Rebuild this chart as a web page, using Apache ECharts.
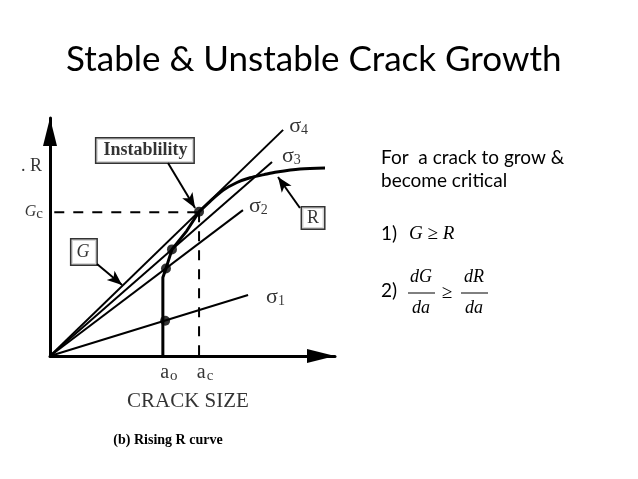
<!DOCTYPE html>
<html><head><meta charset="utf-8">
<script src="https://cdn.jsdelivr.net/npm/echarts@6/dist/echarts.min.js"></script>
<style>html,body{margin:0;padding:0;background:#fff}#c{width:638px;height:479px}</style>
</head><body><div id="c"></div>
<script>
// ---- data (arbitrary diagram units, x: crack size, y: G / R) ----
const a0 = 39.6;
const ac = 52.3;
const Gc = 60.4;
const sigmaNames = ['1', '2', '3', '4'];
const sigmaEnds = [[69.5, 25.6], [67.7, 61.3], [77.9, 81.5], [81.8, 95.0]];
const sigmaLabelOffsets = [[12, 2], [0, -4], [4, -6], [0, -4]];
const dots = [[40.4, 14.8], [40.7, 36.8], [42.8, 44.8], [52.3, 60.6]];
const rRise = [[39.6, 0], [39.6, 33.0], [40.7, 36.8], [42.8, 44.8], [48.0, 52.6], [52.3, 60.6]];
const rCurve = [[52.3, 60.6], [56.1, 64.9], [60.7, 69.6], [65.6, 72.9], [70.2, 74.9], [75.1, 76.2],
                [79.6, 77.3], [87.7, 78.6], [96.5, 79.0]];
const pointerArrows = [
  [[41.4, 81.1], [50.9, 62.2]],   // Instability
  [[16.5, 38.7], [25.3, 29.8]],   // G
  [[87.7, 62.2], [80.0, 75.2]]    // R
];
const boxLabels = [
  {pos: [33.3, 86.3], text: 'Instablility', kind: 'inst'},
  {pos: [11.9, 43.7], text: 'G', kind: 'g'},
  {pos: [92.3, 58.0], text: 'R', kind: 'r'}
];
const xLabels = [{x: a0, main: 'a', sub: 'o'}, {x: ac, main: 'a', sub: 'c'}];

const SERIF = 'Liberation Serif';
const chart = echarts.init(document.getElementById('c'));

const axisCommon = {
  type: 'value', min: 0, max: 100,
  axisLine: {show: true, symbol: ['none', 'triangle'], symbolSize: [14, 28], symbolOffset: [0, -14],
             lineStyle: {color: '#000', width: 3}},
  axisTick: {show: false}, axisLabel: {show: false}, splitLine: {show: false}
};

const series = [];
// sigma lines
sigmaEnds.forEach((e) => {
  series.push({
    type: 'line', silent: true, symbol: 'none', clip: false,
    lineStyle: {color: '#000', width: 2},
    data: [[0, 0], e]
  });
});
// sigma labels
series.push({type: 'scatter', silent: true, symbolSize: 0, clip: false, data: sigmaEnds.map((e, i) => ({
  value: e,
  label: {
    show: true, position: 'right', distance: 6, offset: sigmaLabelOffsets[i],
    formatter: '{s|σ}{sub|' + sigmaNames[i] + '}',
    rich: {s: {fontFamily: SERIF, fontSize: 22, color: '#000', verticalAlign: 'middle', lineHeight: 22},
           sub: {fontFamily: SERIF, fontSize: 14, color: '#000', verticalAlign: 'bottom', lineHeight: 22}}
  }
}))});
// R curve
series.push({type: 'line', silent: true, symbol: 'none', clip: false,
  lineStyle: {color: '#000', width: 3}, data: rRise});
series.push({type: 'line', silent: true, symbol: 'none', clip: false, smooth: 0.3,
  lineStyle: {color: '#000', width: 3}, data: rCurve});
// dashed guides
series.push({type: 'line', silent: true, symbol: 'none', lineStyle: {color: '#000', width: 2, type: [10, 9]},
  data: [[1.5, Gc], [ac, Gc]]});
series.push({type: 'line', silent: true, symbol: 'none', lineStyle: {color: '#000', width: 2, type: [10, 9]},
  data: [[ac, Gc], [ac, 0]]});
// dots
series.push({type: 'scatter', silent: true, symbolSize: 10, itemStyle: {color: '#000'}, data: dots});
// pointer arrows
series.push({type: 'line', silent: true, data: [], markLine: {
  silent: true, animation: false, symbol: ['none', 'arrow'], symbolSize: [9, 15],
  lineStyle: {color: '#000', width: 2, type: 'solid'}, label: {show: false},
  data: pointerArrows.map(p => [{coord: p[0]}, {coord: p[1]}])
}});
// boxed labels
series.push({type: 'scatter', silent: true, symbolSize: 0, data: boxLabels.map(b => ({
  value: b.pos,
  label: {
    show: true, position: 'inside', formatter: b.text, color: '#000',
    fontFamily: SERIF,
    fontSize: b.kind === 'inst' ? 18 : 18,
    fontStyle: b.kind === 'g' ? 'italic' : 'normal',
    fontWeight: b.kind === 'inst' ? 'bold' : 'normal',
    borderColor: '#000', borderWidth: 1.5, backgroundColor: '#fff',
    padding: b.kind === 'inst' ? [4, 6, 2, 7] : (b.kind === 'g' ? [4, 7, 3, 5] : [2, 5, 1, 5])
  }
}))});
// axis annotations: a0, ac, R, Gc, axis title
series.push({type: 'scatter', silent: true, symbolSize: 0, data: xLabels.map(l => ({
  value: [l.x, 0],
  label: {show: true, position: 'bottom', distance: 6, offset: [6, 0],
    formatter: '{m|' + l.main + '}{s|' + l.sub + '}',
    rich: {m: {fontFamily: SERIF, fontSize: 20, color: '#000', verticalAlign: 'middle', lineHeight: 20},
           s: {fontFamily: SERIF, fontSize: 15, color: '#000', verticalAlign: 'bottom', lineHeight: 22, padding: [0, 0, 0, 1]}}
  }
})).concat([
  {value: [0, 79.8], label: {show: true, position: 'left', distance: 8, formatter: '. R',
    fontFamily: SERIF, fontSize: 18, color: '#000'}},
  {value: [0, Gc], label: {show: true, position: 'left', distance: 7,
    formatter: '{g|G}{c|c}',
    rich: {g: {fontFamily: SERIF, fontSize: 16, fontStyle: 'italic', color: '#000'},
           c: {fontFamily: SERIF, fontSize: 15, color: '#000', padding: [3, 0, 0, 0]}}}},
  {value: [48.4, 0], label: {show: true, position: 'bottom', distance: 35, formatter: 'CRACK SIZE',
    fontFamily: SERIF, fontSize: 21, color: '#000'}}
])});

const graphic = [
  {type: 'text', left: 66, top: 42, silent: true,
   style: {text: 'Stable & Unstable Crack Growth', font: '35px Lato', fill: '#000'}},
  {type: 'text', x: 168, y: 440, silent: true,
   style: {text: '(b) Rising R curve', font: 'bold 14px "Liberation Serif"', fill: '#000', align: 'center', verticalAlign: 'middle'}},
  {type: 'text', x: 381, y: 158, silent: true,
   style: {text: 'For  a crack to grow &', font: '19px Lato', fill: '#000', verticalAlign: 'middle'}},
  {type: 'text', x: 381, y: 181, silent: true,
   style: {text: 'become critical', font: '19px Lato', fill: '#000', verticalAlign: 'middle'}},
  {type: 'text', x: 381, y: 234, silent: true,
   style: {text: '1)', font: '19px Lato', fill: '#000', verticalAlign: 'middle'}},
  {type: 'text', x: 409, y: 234, silent: true,
   style: {text: 'G ≥ R', font: 'italic 19px "Liberation Serif"', fill: '#000', verticalAlign: 'middle'}},
  {type: 'text', x: 381, y: 291, silent: true,
   style: {text: '2)', font: '19px Lato', fill: '#000', verticalAlign: 'middle'}},
  {type: 'text', x: 421, y: 277, silent: true,
   style: {text: 'dG', font: 'italic 18px "Liberation Serif"', fill: '#000', align: 'center', verticalAlign: 'middle'}},
  {type: 'text', x: 421, y: 308, silent: true,
   style: {text: 'da', font: 'italic 18px "Liberation Serif"', fill: '#000', align: 'center', verticalAlign: 'middle'}},
  {type: 'line', silent: true, shape: {x1: 408, y1: 293, x2: 435, y2: 293}, style: {stroke: '#000', lineWidth: 1}},
  {type: 'text', x: 447, y: 293, silent: true,
   style: {text: '≥', font: '19px "Liberation Serif"', fill: '#000', align: 'center', verticalAlign: 'middle'}},
  {type: 'text', x: 474, y: 277, silent: true,
   style: {text: 'dR', font: 'italic 18px "Liberation Serif"', fill: '#000', align: 'center', verticalAlign: 'middle'}},
  {type: 'text', x: 474, y: 308, silent: true,
   style: {text: 'da', font: 'italic 18px "Liberation Serif"', fill: '#000', align: 'center', verticalAlign: 'middle'}},
  {type: 'line', silent: true, shape: {x1: 461, y1: 293, x2: 488, y2: 293}, style: {stroke: '#000', lineWidth: 1}}
];

chart.setOption({
  animation: false,
  backgroundColor: '#fff',
  grid: {left: 50, top: 118, width: 285, height: 238, containLabel: false},
  xAxis: axisCommon,
  yAxis: axisCommon,
  series: series,
  graphic: graphic
});
</script></body></html>
